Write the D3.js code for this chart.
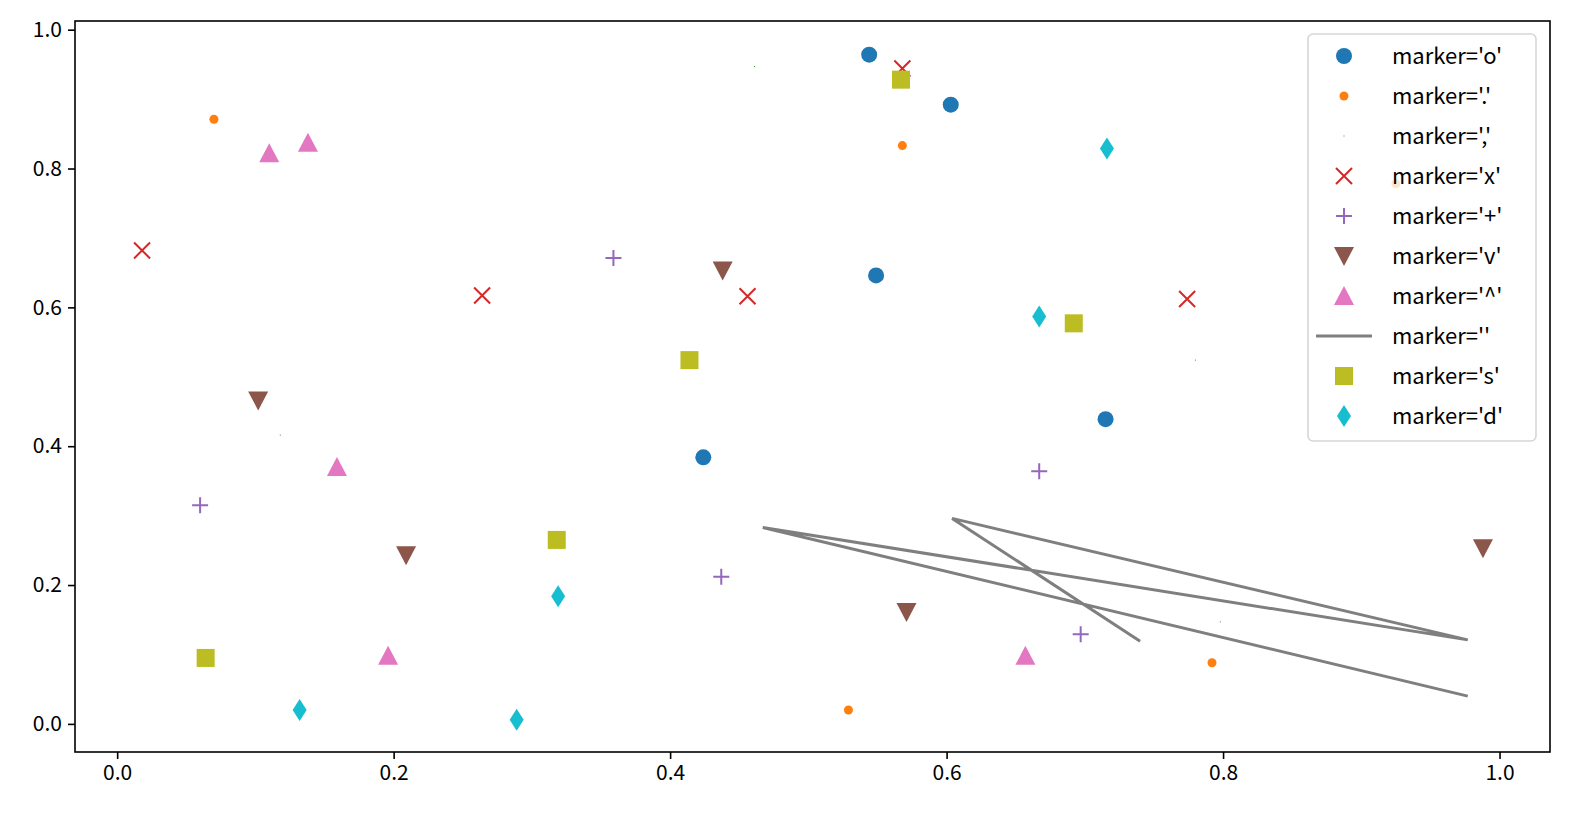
<!DOCTYPE html>
<html><head><meta charset="utf-8">
<script src="https://cdn.jsdelivr.net/npm/d3@7"></script>
<style>body{margin:0;background:#fff}text{font-family:"Noto Sans CJK SC","Noto Sans",sans-serif}</style>
</head><body><svg id="chart" width="1581" height="825"></svg>
<script>
const markers = ['o', '.', ',', 'x', '+', 'v', '^', '', 's', 'd'];
const colors = ['#1f77b4', '#ff7f0e', '#2ca02c', '#d62728', '#9467bd', '#8c564b', '#e377c2', '#7f7f7f', '#bcbd22', '#17becf'];
const xs = [
  [0.544, 0.603, 0.549, 0.424, 0.715],
  [0.070, 0.568, 0.529, 0.792, 0.925],
  [0.461, 0.118, 0.780, 0.798, 0.885],
  [0.018, 0.264, 0.456, 0.774, 0.568],
  [0.060, 0.359, 0.437, 0.667, 0.697],
  [0.102, 0.209, 0.438, 0.571, 0.988],
  [0.110, 0.138, 0.159, 0.196, 0.657],
  [0.740, 0.604, 0.977, 0.467, 0.977],
  [0.567, 0.414, 0.318, 0.064, 0.692],
  [0.716, 0.667, 0.319, 0.132, 0.289]
];
const ys = [
  [0.964, 0.892, 0.646, 0.384, 0.439],
  [0.871, 0.833, 0.020, 0.088, 0.778],
  [0.947, 0.416, 0.524, 0.147, 0.900],
  [0.682, 0.617, 0.616, 0.612, 0.944],
  [0.315, 0.671, 0.212, 0.364, 0.129],
  [0.466, 0.243, 0.653, 0.161, 0.253],
  [0.822, 0.837, 0.370, 0.098, 0.098],
  [0.119, 0.296, 0.121, 0.283, 0.040],
  [0.928, 0.524, 0.265, 0.095, 0.577],
  [0.829, 0.587, 0.184, 0.020, 0.006]
];
const ticks = [0, 0.2, 0.4, 0.6, 0.8, 1.0];

const svg = d3.select('#chart');
const L = 75, R = 1550, T = 21, B = 752;
const x = d3.scaleLinear().domain([-0.0305, 1.0365]).range([L, R]);
const y = d3.scaleLinear().domain([-0.0405, 1.0125]).range([B, T]);

// draws one marker shape at (0,0)
function drawMarker(g, m, c) {
  if (m === 'o') g.append('circle').attr('r', 8).attr('fill', c);
  else if (m === '.') g.append('circle').attr('r', 4.5).attr('fill', c);
  else if (m === ',') g.append('rect').attr('x', -0.5).attr('y', -0.5).attr('width', 1).attr('height', 1).attr('fill', c);
  else if (m === 'x') g.append('path').attr('d', 'M-8,-8L8,8M-8,8L8,-8').attr('stroke', c).attr('stroke-width', 2);
  else if (m === '+') g.append('path').attr('d', 'M-8,0L8,0M0,-8L0,8').attr('stroke', c).attr('stroke-width', 2);
  else if (m === 'v') g.append('path').attr('d', 'M-10,-9L10,-9L0,10Z').attr('fill', c);
  else if (m === '^') g.append('path').attr('d', 'M-10,9L10,9L0,-10Z').attr('fill', c);
  else if (m === 's') g.append('rect').attr('x', -9).attr('y', -9).attr('width', 18).attr('height', 18).attr('fill', c);
  else if (m === 'd') g.append('path').attr('d', 'M0,-11L7,0L0,11L-7,0Z').attr('fill', c);
}

markers.forEach((m, i) => {
  const pts = xs[i].map((v, j) => [v, ys[i][j]]);
  if (m === '') {
    svg.append('path').attr('d', d3.line().x(d => x(d[0])).y(d => y(d[1]))(pts))
      .attr('fill', 'none').attr('stroke', colors[i]).attr('stroke-width', 3);
  } else {
    pts.forEach(p => drawMarker(svg.append('g').attr('transform', `translate(${x(p[0])},${y(p[1])})`), m, colors[i]));
  }
});

const xAxis = svg.append('g').attr('transform', `translate(0,${B})`)
  .call(d3.axisBottom(x).tickValues(ticks).tickFormat(d3.format('.1f')).tickSize(7).tickPadding(6));
const yAxis = svg.append('g').attr('transform', `translate(${L},0)`)
  .call(d3.axisLeft(y).tickValues(ticks).tickFormat(d3.format('.1f')).tickSize(7).tickPadding(6));
[xAxis, yAxis].forEach(a => {
  a.select('.domain').remove();
  a.selectAll('line').attr('stroke-width', 1.6);
  a.selectAll('text').attr('font-size', 21).attr('fill', '#000').attr('font-family', '"Noto Sans CJK SC"');
});
svg.append('rect').attr('x', L).attr('y', T).attr('width', R - L).attr('height', B - T)
  .attr('fill', 'none').attr('stroke', '#000').attr('stroke-width', 1.6);

// legend
const lg = svg.append('g').attr('transform', 'translate(1308,34)');
lg.append('rect').attr('width', 228).attr('height', 407).attr('rx', 5)
  .attr('fill', '#fff').attr('fill-opacity', 0.8).attr('stroke', '#d6d6d6').attr('stroke-width', 1.6);
markers.forEach((m, i) => {
  const row = lg.append('g').attr('transform', `translate(36,${22 + i * 40})`);
  if (m === '') row.append('path').attr('d', 'M-28,0L28,0').attr('stroke', colors[i]).attr('stroke-width', 3);
  else drawMarker(row, m, colors[i]);
  row.append('text').attr('x', 48).attr('y', 8).attr('font-size', 22).text(`marker='${m}'`);
});
</script></body></html>
